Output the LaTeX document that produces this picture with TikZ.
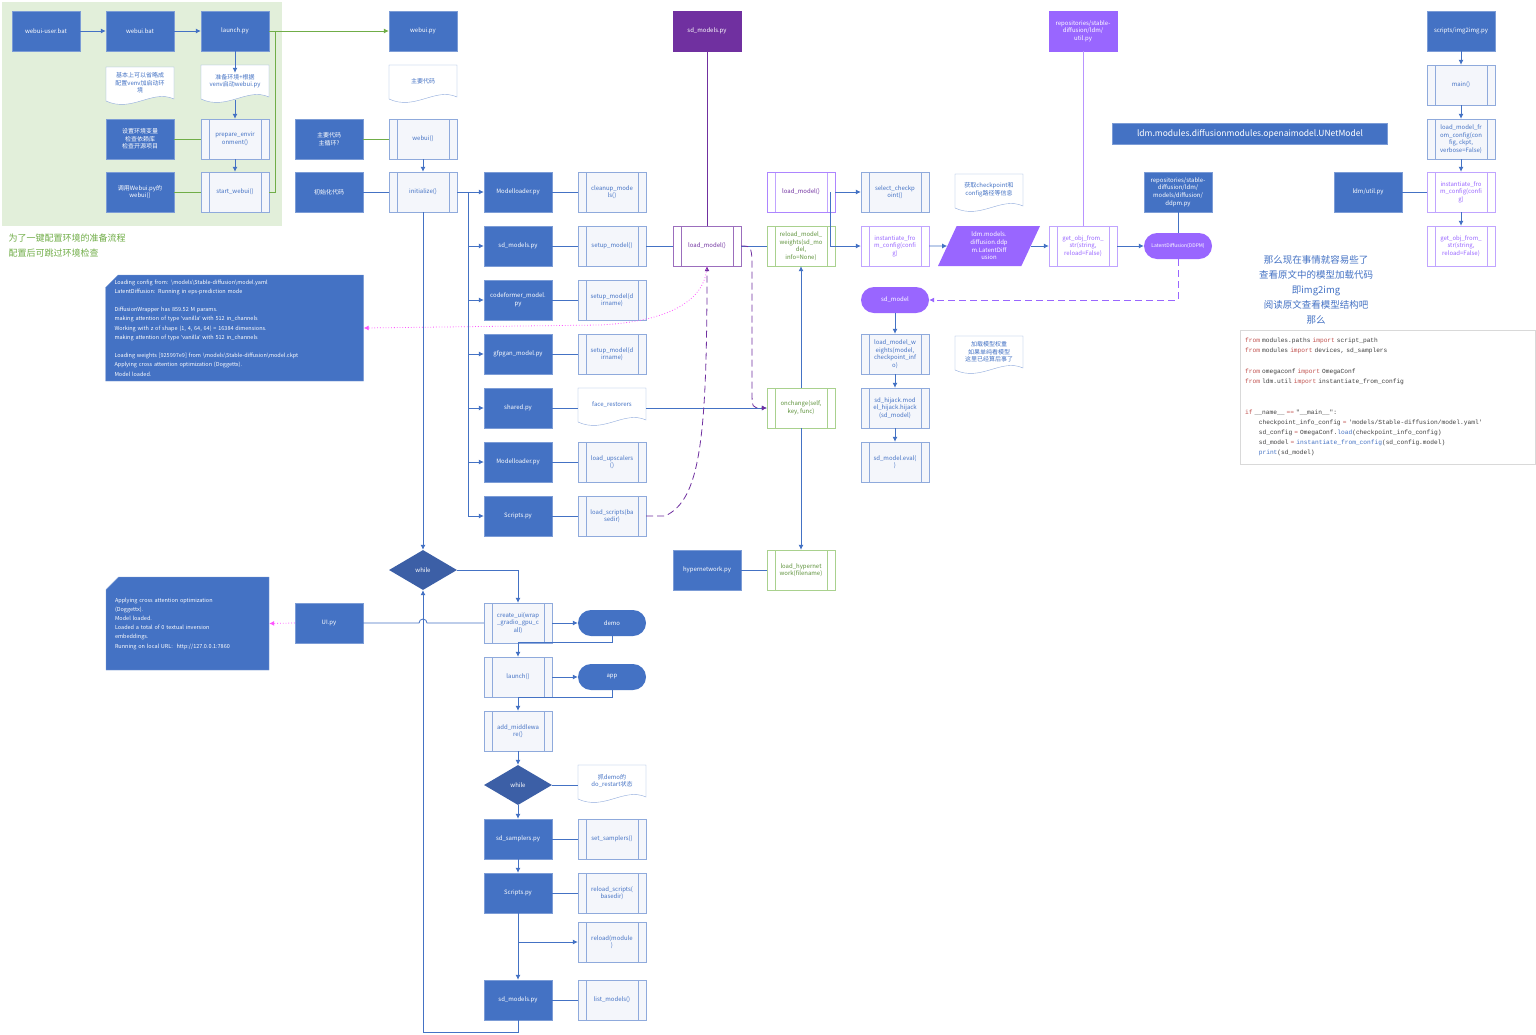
\documentclass[tikz,border=0pt]{standalone}
\usepackage{fontspec}
\setmainfont{Noto Sans CJK SC}
\setmonofont{Liberation Mono}
\newfontfamily\latinf{Noto Sans}
\newcommand\sq{{\latinf '}}
\usetikzlibrary{arrows.meta,shapes.geometric,shapes.misc}
\definecolor{blu}{HTML}{4472C4}
\definecolor{dblu}{HTML}{3C5FA6}
\definecolor{subf}{HTML}{F4F6FB}
\definecolor{subb}{HTML}{8FAADC}
\definecolor{grn}{HTML}{70AD47}
\definecolor{grnb}{HTML}{A9D18E}
\definecolor{grnbg}{HTML}{E2EFDA}
\definecolor{pdk}{HTML}{7030A0}
\definecolor{plt}{HTML}{9966FF}
\definecolor{pbr}{HTML}{C0A4FF}
\definecolor{mag}{HTML}{FF55FF}
\definecolor{kw}{HTML}{C0504D}
\definecolor{fn}{HTML}{4472C4}
\tikzset{
  fsz/.style={font=\fontsize{6}{7.6}\selectfont},
  blk/.style={rectangle, fill=blu, draw=blu!70!white, text=white, minimum width=68pt, minimum height=40pt, inner sep=1pt, align=center, fsz},
  sub/.style={rectangle, draw=subb, fill=subf, text=blu, minimum width=68pt, minimum height=40pt, inner sep=1pt, align=center, fsz,
    path picture={\draw[subb] ([xshift=8pt]path picture bounding box.north west) -- ([xshift=8pt]path picture bounding box.south west);
                  \draw[subb] ([xshift=-8pt]path picture bounding box.north east) -- ([xshift=-8pt]path picture bounding box.south east);}},
  subg/.style={sub, draw=grnb, fill=white, text=grn!85!black,
    path picture={\draw[grnb] ([xshift=8pt]path picture bounding box.north west) -- ([xshift=8pt]path picture bounding box.south west);
                  \draw[grnb] ([xshift=-8pt]path picture bounding box.north east) -- ([xshift=-8pt]path picture bounding box.south east);}},
  subp/.style={sub, draw=pbr, fill=white, text=plt,
    path picture={\draw[pbr] ([xshift=8pt]path picture bounding box.north west) -- ([xshift=8pt]path picture bounding box.south west);
                  \draw[pbr] ([xshift=-8pt]path picture bounding box.north east) -- ([xshift=-8pt]path picture bounding box.south east);}},
  subd/.style={subp, draw=pdk!70, text=pdk,
    path picture={\draw[pdk!70] ([xshift=8pt]path picture bounding box.north west) -- ([xshift=8pt]path picture bounding box.south west);
                  \draw[pdk!70] ([xshift=-8pt]path picture bounding box.north east) -- ([xshift=-8pt]path picture bounding box.south east);}},
  stad/.style={rectangle, rounded corners=13pt, fill=blu, text=white, minimum width=68pt, minimum height=26pt, inner sep=1pt, fsz},
  dia/.style={diamond, aspect=1.7, fill=dblu, text=white, minimum width=68pt, minimum height=40pt, inner sep=0pt, fsz},
  docline/.style={draw=subb, fill=white},
  doctext/.style={minimum width=68pt, text=blu, align=center, inner sep=1pt, fsz},
  ln/.style={draw=blu, line width=0.8pt},
  gln/.style={draw=grn, line width=0.8pt},
  arr/.style={-{Latex[length=5pt,width=5pt]}},
  logb/.style={chamfered rectangle, chamfered rectangle corners=north west, chamfered rectangle xsep=9pt,
    fill=blu, draw=blu!70!white, text=white, align=left, inner sep=0pt, font=\fontsize{5.5}{9.2}\selectfont}
}
\newcommand\docnode[4]{% name, x, y, text
  \draw[docline] (#2-34,#3-20) -- (#2+34,#3-20) -- (#2+34,#3+12) .. controls (#2+12,#3+2) and (#2-8,#3+26) .. (#2-34,#3+14) -- cycle;
  \node[doctext] (#1) at (#2,#3-4) {#4};}
\begin{document}
\begin{tikzpicture}[x=1pt, y=-1pt]
  \useasboundingbox[fill=white] (0,0) rectangle (1536,1034);
  % setup area
  \fill[grnbg] (2,2) rectangle (282,226);
  \node[blk] (wub) at (46,31) {webui-user.bat};
  \node[blk] (wb) at (140,31) {webui.bat};
  \node[blk] (lau) at (235,31) {launch.py};
  \node[blk] (wpy) at (423,31) {webui.py};
  \docnode{skip}{140}{87}{基本上可以省略成\\配置venv加启动环\\境}
  \docnode{prepdoc}{235}{85}{准备环境+根据\\venv启动webui.py}
  \node[blk] (envset) at (140,139) {设置环境变量\\检查依赖库\\检查开源项目};
  \node[sub] (prep) at (235,139) {prepare\_envir\\onment()};
  \node[blk] (callw) at (140,192) {调用Webui.py的\\webui()};
  \node[sub] (startw) at (235,192) {start\_webui()};
  \node[anchor=west, text=grn, align=left, font=\fontsize{9}{15}\selectfont] (cap) at (5,246) {为了一键配置环境的准备流程\\配置后可跳过环境检查};
  \draw[ln,arr] (wub) -- (wb);
  \draw[ln,arr] (wb) -- (lau);
  \draw[ln,arr] (lau) -- (prepdoc.north);
  \draw[ln,arr] (prepdoc.south |- 0,100) -- (prep);
  \draw[ln,arr] (prep) -- (startw);
  \draw[gln] (envset) -- (prep);
  \draw[gln] (callw) -- (startw);
  \coordinate (gj) at (275,31);
  \draw[gln,arr] (lau) -- (wpy);
  \draw[gln] (startw) -| (gj);

  % main code
  \docnode{maindoc}{423}{85}{主要代码}
  \node[blk] (mloop) at (329,139) {主要代码\\主循环?};
  \node[sub] (webf) at (423,139) {webui()};
  \node[blk] (initc) at (329,192) {初始化代码};
  \node[sub] (init) at (423,192) {initialize()};
  \draw[gln] (mloop) -- (webf);
  \draw[ln,arr] (webf) -- (init);
  \draw[ln] (initc) -- (init);

  % initialize branches
  \node[blk] (ml1) at (518,192) {Modelloader.py};
  \node[blk] (sdm) at (518,246) {sd\_models.py};
  \node[blk] (cf) at (518,300) {codeformer\_model.\\py};
  \node[blk] (gf) at (518,354) {gfpgan\_model.py};
  \node[blk] (sh) at (518,408) {shared.py};
  \node[blk] (ml2) at (518,462) {Modelloader.py};
  \node[blk] (sc) at (518,516) {Scripts.py};
  \node[sub] (cln) at (612,192) {cleanup\_mode\\ls()};
  \node[sub] (sset) at (612,246) {setup\_model()};
  \node[sub] (cfset) at (612,300) {setup\_model(d\\irname)};
  \node[sub] (gfset) at (612,354) {setup\_model(d\\irname)};
  \docnode{fr}{612}{408}{face\_restorers};
  \node[sub] (lup) at (612,462) {load\_upscalers\\()};
  \node[sub] (lsc) at (612,516) {load\_scripts(ba\\sedir)};
  \coordinate (trunk) at (468,192);
  \foreach \n in {ml1,sdm,cf,gf,sh,ml2,sc}
    \draw[ln,arr] (trunk) |- (\n.west);
  \draw[ln] (init) -- (trunk);
  \draw[ln] (ml1) -- (cln);
  \draw[ln] (sdm) -- (sset);
  \draw[ln] (cf) -- (cfset);
  \draw[ln] (gf) -- (gfset);
  \draw[ln] (sh) -- (fr.west |- sh);
  \draw[ln] (ml2) -- (lup);
  \draw[ln] (sc) -- (lsc);

  % log output
  \node[logb, minimum width=255pt, minimum height=106pt, text width=240pt] (log1) at (234.5,328) {Loading config from: \textbackslash models\textbackslash Stable-diffusion\textbackslash model.yaml\\LatentDiffusion: Running in eps-prediction mode\\[9.2pt]DiffusionWrapper has 859.52 M params.\\making attention of type \sq vanilla\sq\ with 512 in\_channels\\Working with z of shape (1, 4, 64, 64) = 16384 dimensions.\\making attention of type \sq vanilla\sq\ with 512 in\_channels\\[9.2pt]Loading weights [925997e9] from \textbackslash models\textbackslash Stable-diffusion\textbackslash model.ckpt\\Applying cross attention optimization (Doggettx).\\Model loaded.};

  % sd_models
  \node[blk, fill=pdk, draw=pdk] (sdtop) at (707,31) {sd\_models.py};
  \node[subd] (lm) at (707,246) {load\_model()};
  \node[subg] (rl) at (801,246) {reload\_model\_\\weights(sd\_mo\\del,\\info=None)};
  \node[subg] (onch) at (801,408) {onchange(self,\\key, func)};
  \node[blk] (hyp) at (707,570) {hypernetwork.py};
  \node[subg] (lhn) at (801,570) {load\_hypernet\\work(filename)};
  \draw[pdk, line width=0.8pt] (sdtop) -- (lm);
  \draw[ln] (sset) -- (lm);
  \draw[ln] (lm) -- (rl);
  \draw[ln,arr] (fr.east |- onch) -- (onch);
  \draw[ln,arr] (onch) -- (rl);
  \draw[ln,arr] (onch) -- (lhn);
  \draw[ln] (hyp) -- (lhn);
  \draw[pdk, line width=0.8pt, dash pattern=on 7pt off 4pt, arr] (lm.east) .. controls (752,246) .. (752,275) -- (752,390) .. controls (752,408) .. (onch.west);
  \draw[pdk, line width=0.8pt, dash pattern=on 7pt off 4pt, arr] (lsc.east) -- (665,516) .. controls (700,500) and (707,440) .. (lm.south);
  \draw[mag, line width=0.8pt, dotted, arr] (lm.south) .. controls (705,305) and (660,322) .. (600,325) -- (log1.east);

  % model loading
  \node[subp, draw=plt!80, text=pdk] (lm2) at (801,192) {load\_model()};
  \node[sub] (sel) at (895,192) {select\_checkp\\oint()};
  \node[subp] (inst) at (895,246) {instantiate\_fro\\m\_config(confi\\g)};
  \docnode{ckdoc}{989}{194}{获取checkpoint和\\config路径等信息}
  \node[trapezium, trapezium left angle=65, trapezium right angle=115, fill=plt, text=white, minimum height=40pt, text width=46pt, align=center, inner sep=1pt, fsz] (ldm) at (989,246) {ldm.models.\\diffusion.ddp\\m.LatentDiff\\usion};
  \node[subp] (gos) at (1083,246) {get\_obj\_from\_\\str(string,\\reload=False)};
  \node[blk, fill=plt, draw=plt] (utl) at (1083,31) {repositories/stable-\\diffusion/ldm/\\util.py};
  \node[stad, fill=plt, font=\fontsize{5}{6}\selectfont] (ld) at (1178,246) {LatentDiffusion(DDPM)};
  \node[blk] (ddpm) at (1178,192) {repositories/stable-\\diffusion/ldm/\\models/diffusion/\\ddpm.py};
  \node[stad, fill=plt] (sdmod) at (895,300) {sd\_model};
  \node[sub] (lmw) at (895,354) {load\_model\_w\\eights(model,\\checkpoint\_inf\\o)};
  \node[sub] (hij) at (895,408) {sd\_hijack.mod\\el\_hijack.hijack\\(sd\_model)};
  \node[sub] (ev) at (895,462) {sd\_model.eval(\\)};
  \docnode{wdoc}{989}{356}{加载模型权重\\如果单纯看模型\\这里已经算后事了}
  \coordinate (br) at (830,192);
  \draw[ln,arr] (lm2) -- (sel);
  \draw[ln,arr] (br) |- (inst.west);
  \draw[ln,arr] (inst) -- (ldm);
  \draw[ln,arr] (ldm) -- (gos);
  \draw[ln,arr] (gos) -- (ld);
  \draw[plt!70, line width=0.8pt] (utl) -- (gos);
  \draw[ln] (ddpm) -- (ld);
  \draw[plt, line width=0.8pt, dash pattern=on 7pt off 4pt, arr] (ld.south) |- (sdmod.east);
  \draw[ln,arr] (sdmod) -- (lmw);
  \draw[ln,arr] (lmw) -- (hij);
  \draw[ln,arr] (hij) -- (ev);

  % img2img
  \node[blk, minimum width=275pt, minimum height=21pt, font=\fontsize{8.5}{10}\selectfont] (unet) at (1250,134) {ldm.modules.diffusionmodules.openaimodel.UNetModel};
  \node[blk] (i2i) at (1461,31) {scripts/img2img.py};
  \node[sub] (mainf) at (1461,85) {main()};
  \node[sub] (lmfc) at (1461,139) {load\_model\_fr\\om\_config(con\\fig, ckpt,\\verbose=False)};
  \node[subp] (inst2) at (1461,192) {instantiate\_fro\\m\_config(confi\\g)};
  \node[subp] (gos2) at (1461,246) {get\_obj\_from\_\\str(string,\\reload=False)};
  \node[blk] (lutil) at (1368,192) {ldm/util.py};
  \draw[ln,arr] (i2i) -- (mainf);
  \draw[ln,arr] (mainf) -- (lmfc);
  \draw[ln,arr] (lmfc) -- (inst2);
  \draw[ln,arr] (inst2) -- (gos2);
  \draw[ln] (lutil) -- (inst2);
  \node[text=blu, align=center, font=\fontsize{9.5}{15}\selectfont] (note) at (1316,290) {那么现在事情就容易些了\\查看原文中的模型加载代码\\即img2img\\阅读原文查看模型结构吧\\那么};
  \node[draw=gray!30, anchor=north west, minimum width=295pt, minimum height=134pt, text width=285pt, align=left, inner sep=3pt, text=black!75, font=\ttfamily\fontsize{6.2}{10.2}\selectfont] (code) at (1240,330) {\textcolor{kw}{from} modules.paths \textcolor{kw}{import} script\_path\\
\textcolor{kw}{from} modules \textcolor{kw}{import} devices, sd\_samplers\\[10.2pt]
\textcolor{kw}{from} omegaconf \textcolor{kw}{import} OmegaConf\\
\textcolor{kw}{from} ldm.util \textcolor{kw}{import} instantiate\_from\_config\\[20.4pt]
\textcolor{kw}{if} \_\_name\_\_ \textcolor{kw}{==} "\_\_main\_\_":\\
\hspace*{2.2em}checkpoint\_info\_config \textcolor{kw}{=} 'models/Stable-diffusion/model.yaml'\\
\hspace*{2.2em}sd\_config \textcolor{kw}{=} OmegaConf.\textcolor{fn}{load}(checkpoint\_info\_config)\\
\hspace*{2.2em}sd\_model \textcolor{kw}{=} \textcolor{fn}{instantiate\_from\_config}(sd\_config.model)\\
\hspace*{2.2em}\textcolor{fn}{print}(sd\_model)};

  % main loop
  \node[dia] (wh1) at (423,570) {while};
  \node[blk] (uipy) at (329,623) {UI.py};
  \node[logb, minimum width=161pt, minimum height=93pt, text width=145pt] (log2) at (187.5,623.5) {Applying cross attention optimization\\(Doggettx).\\Model loaded.\\Loaded a total of 0 textual inversion\\embeddings.\\Running on local URL:\ \ http://127.0.0.1:7860};
  \node[sub] (cui) at (518,623) {create\_ui(wrap\\\_gradio\_gpu\_c\\all)};
  \node[stad] (demo) at (612,623) {demo};
  \node[sub] (lau2) at (518,677) {launch()};
  \node[stad] (app) at (612,677) {app};
  \node[sub] (addm) at (518,731) {add\_middlewa\\re()};
  \node[dia] (wh2) at (518,785) {while};
  \docnode{rsdoc}{612}{785}{抓demo的\\do\_restart状态}
  \node[blk] (samp) at (518,839) {sd\_samplers.py};
  \node[sub] (ssamp) at (612,839) {set\_samplers()};
  \node[blk] (sc2) at (518,893) {Scripts.py};
  \node[sub] (rsc) at (612,893) {reload\_scripts(\\basedir)};
  \node[sub] (rmod) at (612,942) {reload(module\\)};
  \node[blk] (sdm2) at (518,1000) {sd\_models.py};
  \node[sub] (lsm) at (612,1000) {list\_models()};
  \draw[ln,arr] (init) -- (wh1);
  \draw[ln,arr] (wh1.east) -| (cui.north);
  \draw[ln] (uipy.east) -- (419,623) arc (180:360:4) -- (cui.west);
  \draw[mag, line width=0.8pt, dotted, arr] (uipy.west) -- (log2.east);
  \draw[ln,arr] (cui) -- (demo);
  \draw[ln,arr] (demo.south) -- ++(0,6) -| (lau2.north);
  \draw[ln,arr] (lau2) -- (app);
  \draw[ln,arr] (app.south) -- ++(0,7) -| (addm.north);
  \draw[ln,arr] (addm) -- (wh2);
  \draw[ln] (wh2) -- (rsdoc.west |- wh2);
  \draw[ln,arr] (wh2) -- (samp);
  \draw[ln] (samp) -- (ssamp);
  \draw[ln,arr] (samp) -- (sc2);
  \draw[ln] (sc2) -- (rsc);
  \draw[ln,arr] (sc2) -- (sdm2);
  \coordinate (rb) at (518,942);
  \draw[ln,arr] (rb) -- (rmod);
  \draw[ln] (sdm2) -- (lsm);
  \draw[ln,arr] (sdm2.south) -- ++(0,12) -| (wh1.south);
\end{tikzpicture}
\end{document}
